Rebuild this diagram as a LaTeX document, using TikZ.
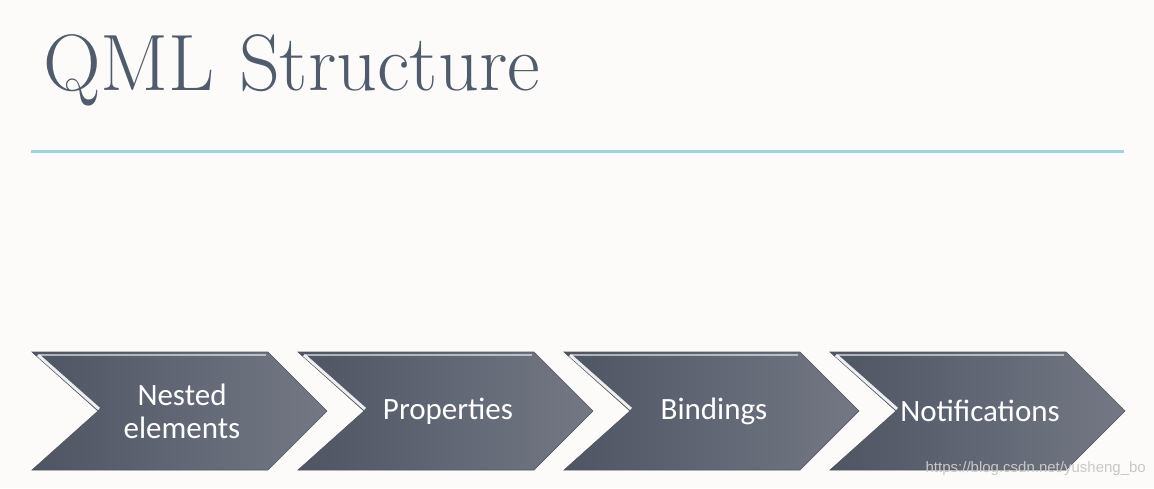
\documentclass[tikz,border=0pt]{standalone}
\usepackage{fontspec}
\newfontfamily\carfont{Carlito}
\newfontfamily\wmfont{Liberation Sans}
\begin{document}
\begin{tikzpicture}[x=1pt,y=-1pt,
  chev/.style={left color=chevL,right color=chevR,draw=chevR!70!black,line width=0.6pt},
  lab/.style={text=white,font=\carfont\fontsize{31}{33}\selectfont,align=center},
  bevel/.style={white,line width=3pt,opacity=0.9}]
\definecolor{chevL}{HTML}{4E5563}
\definecolor{chevR}{HTML}{737884}
\fill[fill={rgb,255:red,252;green,251;blue,250}] (0,0) rectangle (1154,488);
\useasboundingbox (0,0) rectangle (1154,488);
\node[anchor=base west,text={rgb,255:red,80;green,92;blue,108},font=\fontsize{80}{88}\selectfont,inner sep=0] (title) at (43,90) {QML Structure};
\coordinate (l1) at (31,151); \coordinate (l2) at (1124,151);
\draw[line width=3pt,color={rgb,255:red,160;green,210;blue,225}] (l1) -- (l2);
\foreach \i/\t [count=\k] in {0/{Nested\\elements},266/Properties,532/Bindings,798/Notifications}{
  \begin{scope}[xshift=\i]
  \draw[chev] (32,352) -- (268,352) -- (327,411) -- (268,470) -- (32,470) -- (98,411) -- cycle;
  \draw[bevel] (38,355) -- (99,409);
  \draw[white,line width=2pt,opacity=0.55] (40,354.5) -- (266,354.5);
  \node[lab] (c\k) at (182,411) {\t};
  \end{scope}
}
\node[anchor=east,text={rgb,255:red,200;green,200;blue,200},font=\wmfont\fontsize{15}{17}\selectfont,inner sep=0] (wm) at (1146,469) {https://blog.csdn.net/yusheng\_bo};
\end{tikzpicture}
\end{document}
